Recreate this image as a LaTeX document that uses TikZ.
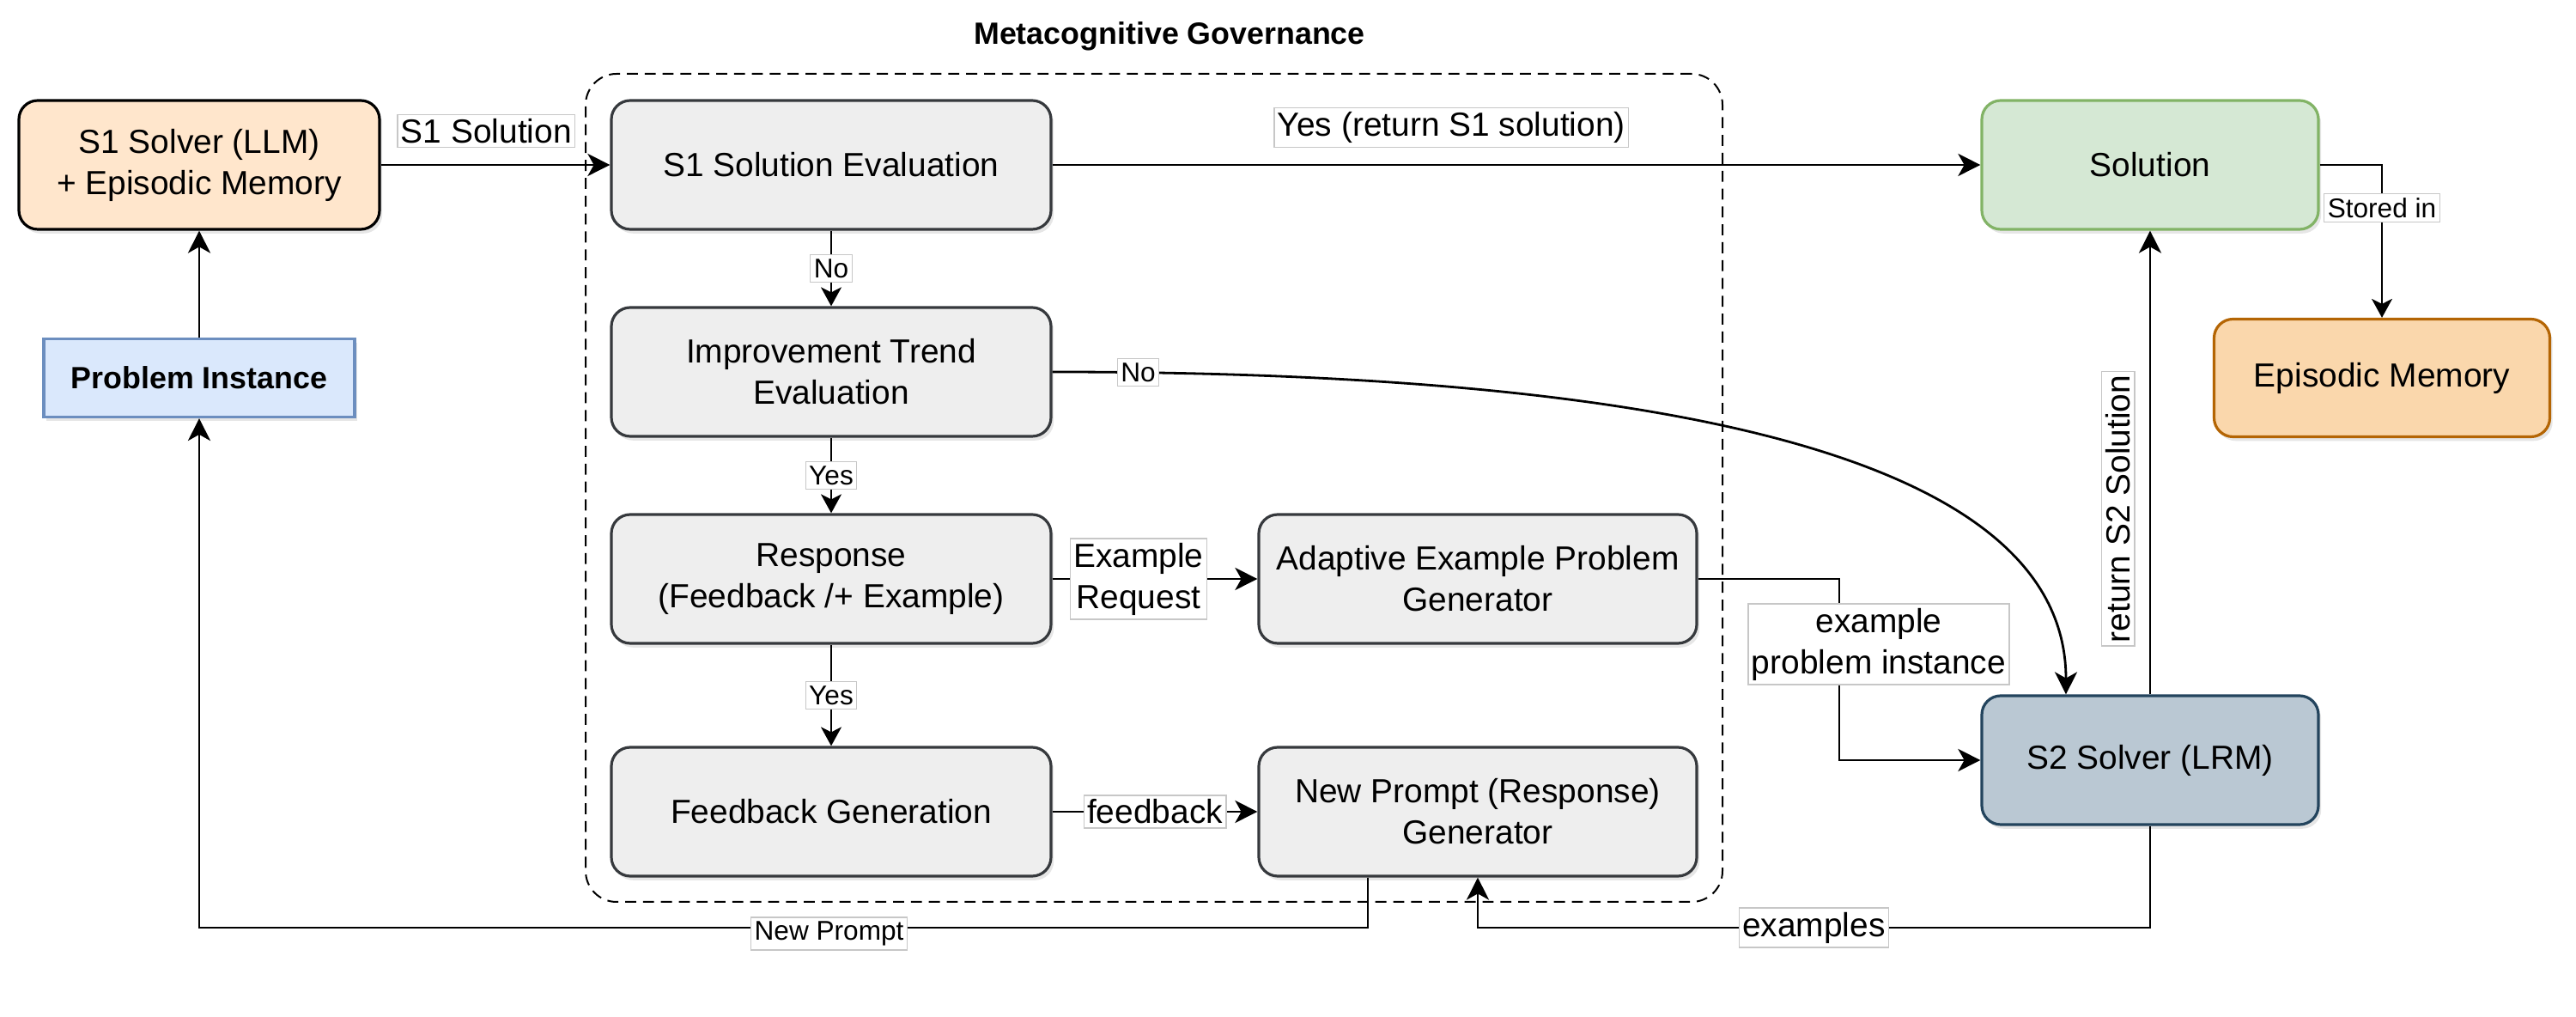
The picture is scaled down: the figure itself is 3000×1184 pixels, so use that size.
\documentclass[tikz,border=0pt]{standalone}
\usepackage{fontspec}
\setmainfont{Liberation Sans}
\usetikzlibrary{arrows.meta,shadows,calc}
\definecolor{s1fill}{HTML}{FFE6CC}
\definecolor{pfill}{HTML}{DAE8FC}\definecolor{pstroke}{HTML}{6C8EBF}
\definecolor{gfill}{HTML}{EEEEEE}\definecolor{gstroke}{HTML}{36393D}
\definecolor{solfill}{HTML}{D5E8D4}\definecolor{solstroke}{HTML}{82B366}
\definecolor{epfill}{HTML}{FAD7AC}\definecolor{epstroke}{HTML}{B46504}
\definecolor{s2fill}{HTML}{BAC8D3}\definecolor{s2stroke}{HTML}{23445D}
\newcommand\mylarge{\fontsize{9.72}{12}\selectfont}
\newcommand\mysmall{\fontsize{7.9}{9.5}\selectfont}
\begin{document}
\begin{tikzpicture}[x=0.25pt,y=-0.25pt,
  box/.style={draw, line width=0.8pt, rounded corners=5.5pt, minimum width=128pt,
    minimum height=37.5pt, align=center, font=\mylarge, inner sep=2pt,
    drop shadow={shadow xshift=0.8pt,shadow yshift=-1.2pt,opacity=0.2}},
  gbox/.style={box, fill=gfill, draw=gstroke},
  lbl/.style={fill=white, draw=black!22, line width=0.3pt, inner xsep=1pt,
    inner ysep=1.2pt, font=\mylarge, align=center},
  slbl/.style={lbl, font=\mysmall},
  arr/.style={line width=0.7pt, -{Stealth[length=6.5pt,width=6.5pt,inset=1.8pt]}},
  sarr/.style={line width=0.5pt, -{Stealth[length=5.5pt,width=6pt,inset=1.5pt]}},
]
\useasboundingbox (0,0) rectangle (3000,1184);

% container
\node[draw, dashed, dash pattern=on 3.2pt off 2pt, line width=0.5pt, rounded corners=9pt,
  minimum width=331pt, minimum height=241pt, inner sep=0pt] (gov) at (1344,568) {};
\node[font=\bfseries\fontsize{8.95}{11}\selectfont] (title) at (1362,42) {Metacognitive Governance};

% boxes
\node[box, fill=s1fill, minimum width=105pt] (s1) at (232,192) {S1 Solver (LLM)\\+ Episodic Memory};
\node[box, rounded corners=0pt, fill=pfill, draw=pstroke, minimum width=90.5pt,
  minimum height=22.75pt, font=\bfseries\fontsize{8.95}{11}\selectfont] (prob) at (232,440) {Problem Instance};
\node[gbox] (eval) at (968,192) {S1 Solution Evaluation};
\node[gbox] (impr) at (968,433) {Improvement Trend\\Evaluation};
\node[gbox] (resp) at (968,674) {Response\\(Feedback /+ Example)};
\node[gbox] (fbg) at (968,945) {Feedback Generation};
\node[gbox, minimum width=127.5pt] (adapt) at (1721,674) {Adaptive Example Problem\\Generator};
\node[gbox, minimum width=127.5pt] (npg) at (1721,945) {New Prompt (Response)\\Generator};
\node[box, fill=solfill, draw=solstroke, minimum width=98pt] (sol) at (2504,192) {Solution};
\node[box, fill=epfill, draw=epstroke, minimum width=97.75pt, minimum height=34.25pt] (epi) at (2774,440) {Episodic Memory};
\node[box, fill=s2fill, draw=s2stroke, minimum width=98pt] (s2) at (2504,885) {S2 Solver (LRM)};

% helper coordinates
\coordinate (np1) at (1593,1080);
\coordinate (ex1) at (2504,1080);
\coordinate (ep1) at (2142,750);

% connectors
\draw[arr] (prob.north) -- (s1.south);
\draw[arr] (s1.east) -- node[lbl, pos=0.46, above=5pt]{S1 Solution} (eval.west);
\draw[arr] (eval.east) -- node[lbl, pos=0.43, above=5pt]{Yes (return S1 solution)} (sol.west);
\draw[sarr] (eval.south) -- node[slbl]{No} (impr.north);
\draw[sarr] (impr.south) -- node[slbl]{Yes} (resp.north);
\draw[sarr] (resp.south) -- node[slbl]{Yes} (fbg.north);
\draw[arr] (resp.east) -- node[lbl, pos=0.42]{Example\\Request} (adapt.west);
\draw[arr] (fbg.east) -- node[lbl]{feedback} (npg.west);
\draw[arr] (impr.east) .. controls (1900,433) and (2406,520) .. ([xshift=-24.5pt]s2.north)
  node[slbl, pos=0.05]{No};
\draw[arr] (adapt.east) -| (ep1) node[lbl, xshift=11.5pt]{example\\problem instance} |- (s2.west);
\draw[arr] (s2.north) -- node[lbl, pos=0.4, rotate=90, anchor=south, outer sep=4.5pt]{return S2 Solution} (sol.south);
\draw[sarr] (sol.east) -| node[slbl, pos=0.64]{Stored in} (epi.north);
\draw[arr] (s2.south) -- (ex1) -| node[lbl, pos=0.25]{examples} (npg.south);
\draw[arr] (npg.south -| np1) -- (np1) -- node[slbl, pos=0.461, yshift=-1.75pt]{New Prompt} (np1 -| prob.south) -- (prob.south);
\end{tikzpicture}
\end{document}
